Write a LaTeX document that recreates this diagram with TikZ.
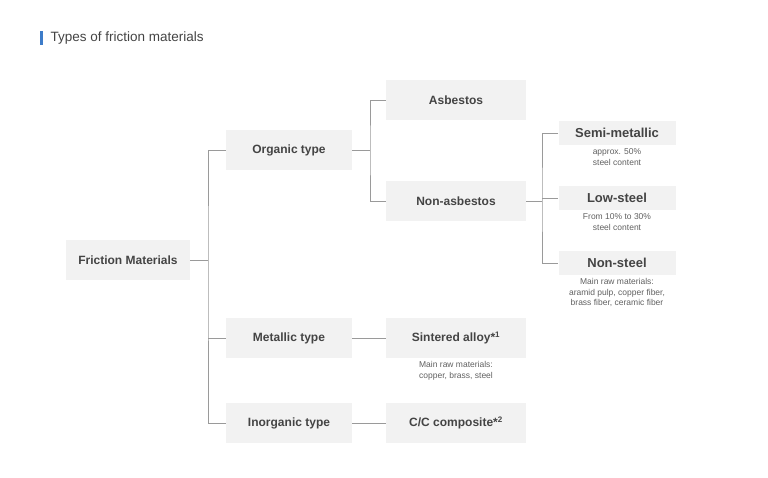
\documentclass[tikz,border=0pt]{standalone}
\usepackage{fontspec}
\setmainfont{Liberation Sans}
\usetikzlibrary{positioning}
\definecolor{boxgray}{HTML}{F2F2F2}
\definecolor{textgray}{HTML}{444444}
\definecolor{linegray}{HTML}{9A9A9A}
\definecolor{barblue}{HTML}{3D7CC9}
\tikzset{
  catbox/.style={fill=boxgray,minimum width=126pt,minimum height=40pt,font=\bfseries\fontsize{12}{14}\selectfont,text=textgray},
  subbox/.style={fill=boxgray,minimum width=140pt,minimum height=40pt,font=\bfseries\fontsize{12}{14}\selectfont,text=textgray},
  smallbox/.style={fill=boxgray,minimum width=117pt,minimum height=24pt,font=\bfseries\fontsize{13}{15}\selectfont,text=textgray},
  note/.style={font=\fontsize{8.5}{10.5}\selectfont,text=textgray!85,align=center},
  link/.style={draw=linegray,line width=0.9pt}
}
\begin{document}
\begin{tikzpicture}[x=1pt,y=-1pt]
\useasboundingbox (0,0) rectangle (768,477);
%Title
\fill[barblue] (40,31) rectangle (42.5,45);
\node[anchor=west,text=textgray,font=\fontsize{13.5}{16}\selectfont] (title) at (47,38) {Types of friction materials};
%Root and first level
\node[catbox,minimum width=124pt] (root) at (128,260) {Friction Materials};
\node[catbox] (organic) at (289,150) {Organic type};
\node[catbox] (metallic) at (289,338) {Metallic type};
\node[catbox] (inorganic) at (289,423) {Inorganic type};
%Second level
\node[subbox] (asbestos) at (456,100) {Asbestos};
\node[subbox] (nonasb) at (456,201) {Non-asbestos};
\node[subbox] (sintered) at (456,338) {Sintered alloy*\textsuperscript{1}};
\node[subbox] (cc) at (456,423) {C/C composite*\textsuperscript{2}};
%Third level
\node[smallbox] (semi) at (617,133) {Semi-metallic};
\node[smallbox] (low) at (617,198) {Low-steel};
\node[smallbox] (nonsteel) at (617,263) {Non-steel};
%Notes
\node[note,below=0pt of semi] (semitext) {approx. 50\%\\steel content};
\node[note,below=0pt of low] (lowtext) {From 10\% to 30\%\\steel content};
\node[note,below=0pt of nonsteel] (nonsteeltext) {Main raw materials:\\aramid pulp, copper fiber,\\brass fiber, ceramic fiber};
\node[note,below=0pt of sintered] (sinteredtext) {Main raw materials:\\copper, brass, steel};
%Connectors
\coordinate (j1) at (208,260);
\coordinate (j2) at (370,150);
\coordinate (j3) at (542,201);
\draw[link] (root.east) -- (j1);
\draw[link] (organic.west) -| (j1) |- (inorganic.west);
\draw[link] (j1 |- metallic.west) -- (metallic.west);
\draw[link] (organic.east) -- (j2);
\draw[link] (asbestos.west) -| (j2) |- (nonasb.west);
\draw[link] (nonasb.east) -- (j3);
\draw[link] (semi.west) -| (j3) |- (nonsteel.west);
\draw[link] (j3 |- low.west) -- (low.west);
\draw[link] (metallic) -- (sintered);
\draw[link] (inorganic) -- (cc);
\end{tikzpicture}
\end{document}
